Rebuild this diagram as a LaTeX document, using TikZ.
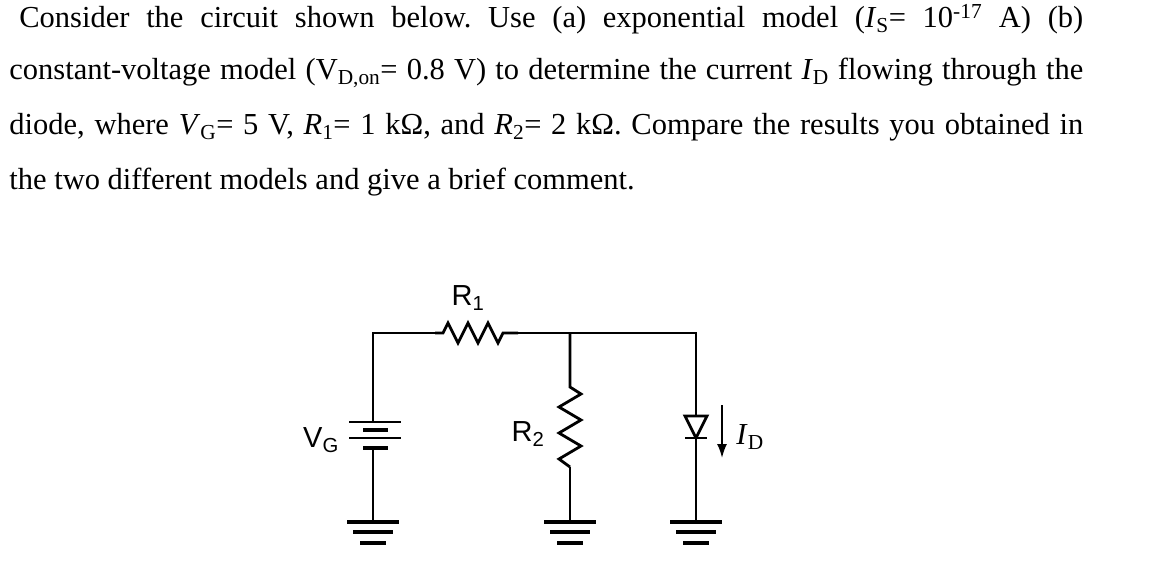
\documentclass[tikz,border=0pt]{standalone}
\usepackage{fontspec}
\usetikzlibrary{arrows.meta}
\setmainfont{Liberation Serif}
\newfontfamily\arialf{Liberation Sans}
\frenchspacing
\begin{document}
\begin{tikzpicture}[x=1pt,y=-1pt,line width=2.8pt,
  txt/.style={anchor=west,inner sep=0pt,font=\fontsize{30.5}{32}\selectfont},
  lab/.style={inner sep=0pt,font=\arialf\fontsize{29}{30}\selectfont},
  gnd/.style={line width=3.2pt}]
\useasboundingbox (0,0) rectangle (1162,570);
\node[txt] (l1) at (18,19) {\makebox[1064pt][s]{Consider the circuit shown below. Use (a) exponential model (\textit{I}\textsubscript{S}= 10\textsuperscript{-17} A) (b)}};
\node[txt] (l2) at (8,73) {\makebox[1074pt][s]{constant-voltage model (V\textsubscript{D,on}= 0.8 V) to determine the current \textit{I}\textsubscript{D} flowing through the}};
\node[txt] (l3) at (8,127) {\makebox[1074pt][s]{diode, where \textit{V}\textsubscript{G}= 5 V, \textit{R}\textsubscript{1}= 1 kΩ, and \textit{R}\textsubscript{2}= 2 kΩ. Compare the results you obtained in}};
\node[txt] (l4) at (8,182) {the two different models and give a brief comment.};
% nodes
\coordinate (tl) at (373,333);
\coordinate (r1a) at (435,333);
\coordinate (r1b) at (518,333);
\coordinate (j) at (570,333);
\coordinate (tr) at (696,333);
\coordinate (bt) at (373,422);
\coordinate (bb) at (373,448);
\coordinate (g1) at (373,522);
\coordinate (r2a) at (570,387);
\coordinate (r2b) at (570,467);
\coordinate (g2) at (570,522);
\coordinate (da) at (696,416);
\coordinate (dk) at (696,438);
\coordinate (g3) at (696,522);
\draw (bt) -- (tl) -- (r1a);
\draw (r1a) -- ++(8,0) -- ++(5,-10) -- ++(10,20) -- ++(10,-20) -- ++(10,20) -- ++(10,-20) -- ++(10,20) -- ++(5,-10) -- (r1b);
\draw (r1b) -- (j) -- (tr) -- (da);
\draw (j) -- (r2a) -- ++(11,7) -- ++(-22,13) -- ++(22,13) -- ++(-22,13) -- ++(22,13) -- ++(-22,13) -- ++(11,8) -- (r2b);
\draw (r2b) -- (g2);
% battery
\draw (349,422) -- (401,422);
\draw[line width=3.2pt] (363,430) -- (388,430);
\draw (349,438) -- (401,438);
\draw[line width=3.2pt] (363,448) -- (388,448);
\draw (bb) -- (g1);
% diode
\draw[line join=miter] (685,416) -- (707,416) -- (dk) -- cycle;
\draw (685,438) -- (707,438);
\draw (dk) -- (g3);
\draw[line width=1.8pt,-{Latex[length=14pt,width=10pt]}] (722,405) -- (722,458);
% grounds
\foreach \g in {g1,g2,g3}{
 \draw[gnd] (\g) ++(-26,0) -- ++(52,0);
 \draw[gnd] (\g) ++(-20,10) -- ++(40,0);
 \draw[gnd] (\g) ++(-13,21) -- ++(26,0);
}
\node[lab] (R1) at (468,298) {R\textsubscript{1}};
\node[lab] (R2) at (528,434) {R\textsubscript{2}};
\node[lab] (VG) at (321,440) {V\textsubscript{G}};
\node[txt] (ID) at (735,437) {\textit{I}\textsubscript{D}};
\end{tikzpicture}
\end{document}
